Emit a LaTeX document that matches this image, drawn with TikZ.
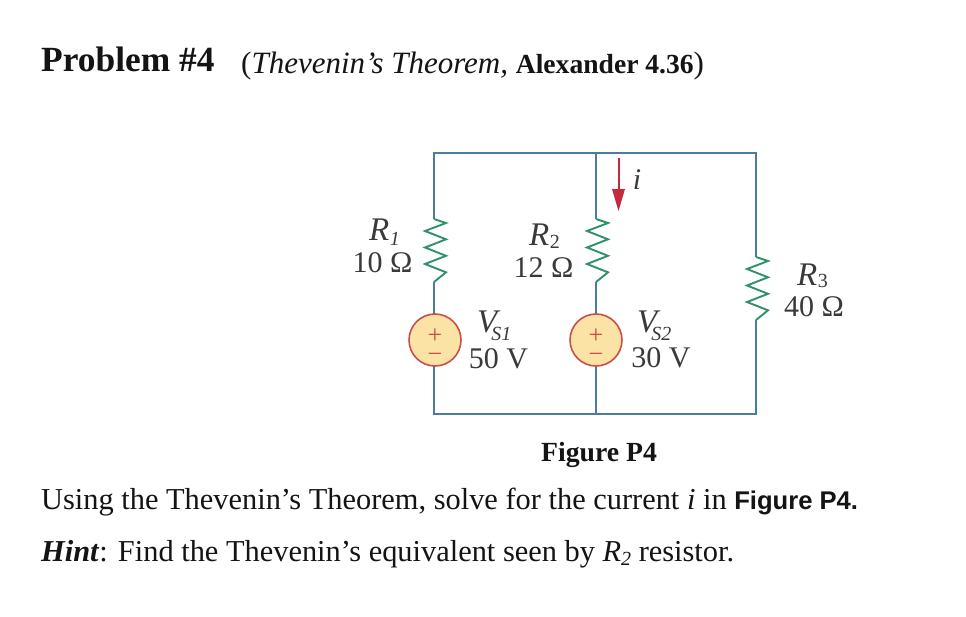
\documentclass[tikz,border=0pt]{standalone}
\usepackage{fontspec}
\usetikzlibrary{calc}
\setmainfont{Liberation Serif}
\newfontfamily\arialf{Liberation Sans}
\definecolor{wire}{HTML}{4A7C9C}
\definecolor{resc}{HTML}{2F9268}
\definecolor{srcfill}{HTML}{FBE3A6}
\definecolor{srcline}{HTML}{C8504A}
\definecolor{arrowc}{HTML}{C42A3C}
\definecolor{txt}{HTML}{141414}
\definecolor{circt}{HTML}{3A3A3A}
\newcommand{\subf}{\fontsize{20}{20}\selectfont}
\newcommand{\symf}{\fontsize{33}{33}\selectfont\itshape}
\tikzset{
  wireline/.style={draw=wire,line width=2pt},
  resline/.style={draw=resc,line width=1.9pt,line join=miter},
  srcnode/.style={circle,draw=srcline,fill=srcfill,line width=1.6pt,minimum size=52pt,inner sep=0pt,
    align=center,text=srcline,font=\fontsize{26}{19.5}\selectfont},
  ctext/.style={text=circt,font=\fontsize{30}{30}\selectfont,inner sep=0pt,anchor=base},
  symtext/.style={text=circt,font=\symf,inner sep=0pt,anchor=base west},
  para/.style={text=txt,font=\fontsize{30.4}{31}\selectfont,inner sep=0pt,anchor=base west}
}
\newcommand{\zigzag}[2]{%
 \draw[resline] (#1) -- ++(12,4) -- ++(-21,8) -- ++(21,8.3) -- ++(-21,8.2) -- ++(21,8.3) -- ++(-21,8.2) -- ++(21,8.3) -- (#2);}
\begin{document}
\begin{tikzpicture}[x=1pt,y=-1pt]
\useasboundingbox[fill=white] (0,0) rectangle (966,616);
% corner and junction coordinates
\coordinate (tl) at (434,152.5);
\coordinate (tm) at (596,152.5);
\coordinate (tr) at (756,152.5);
\coordinate (bl) at (434,414);
\coordinate (bm) at (596,414);
\coordinate (br) at (756,414);
\coordinate (r1t) at (434,219);
\coordinate (r1b) at (434,282);
\coordinate (r2t) at (596,219);
\coordinate (r2b) at (596,282);
\coordinate (r3t) at (756,257);
\coordinate (r3b) at (756,320);
\coordinate (at) at (618.5,158);
\coordinate (ab) at (618.5,211);
% wires
\draw[wireline] (r1t) -- (tl) -- (tr) -- (r3t);
\draw[wireline] (tm) -- (r2t);
\draw[wireline] (r1b) -- (bl) -- (br) -- (r3b);
\draw[wireline] (r2b) -- (bm);
% sources
\node[srcnode] (vs1) at (435,340) {\rule{0pt}{26pt}+\\−};
\node[srcnode] (vs2) at (596,340) {\rule{0pt}{26pt}+\\−};
% resistors
\zigzag{r1t}{r1b}
\zigzag{r2t}{r2b}
\zigzag{r3t}{r3b}
% current arrow
\draw[draw=arrowc,line width=2pt] (at) -- ($(ab)+(0,-16)$);
\fill[arrowc] (ab) -- ++(-6.5,-22) -- ++(13,0) -- cycle;
\node[ctext,font=\fontsize{30}{30}\selectfont\itshape] (ilabel) at (637,189) {i};
% circuit labels
\node[symtext] (r1n) at (369,240) {R\kern0.5pt\raisebox{-5pt}{\subf 1}};
\node[ctext] (r1v) at (382.5,272) {10 Ω};
\node[symtext] (r2n) at (529,245) {R\kern0.5pt\raisebox{-3pt}{\subf\upshape 2}};
\node[ctext] (r2v) at (543.5,277) {12 Ω};
\node[symtext] (r3n) at (797,285) {R\kern0.5pt\raisebox{-2pt}{\subf\upshape 3}};
\node[ctext] (r3v) at (814,316) {40 Ω};
\node[symtext] (v1n) at (477,332) {V\kern-6pt\raisebox{-8pt}{\subf S1}};
\node[ctext] (v1v) at (498.5,368) {50 V};
\node[symtext] (v2n) at (637,332) {V\kern-6pt\raisebox{-8pt}{\subf S2}};
\node[ctext] (v2v) at (661,367) {30 V};
% document text
\node[para,font=\fontsize{35.4}{36}\selectfont\bfseries] (title) at (41,71) {Problem \#4};
\node[para,font=\fontsize{31}{31}\selectfont] (subtitle) at (241,73) {(\textit{Thevenin’s Theorem,} {\fontsize{27.6}{28}\selectfont\bfseries Alexander 4.36})};
\node[para,font=\fontsize{27.7}{28}\selectfont\bfseries] (fig) at (541,461) {Figure P4};
\node[para] (l1) at (41,509) {Using the Thevenin’s Theorem, solve for the current \textit{i} in {\arialf\bfseries\fontsize{25.6}{26}\selectfont Figure P4.}};
\node[para] (l2) at (41,561) {\textbf{\textit{Hint}}: Find the Thevenin’s equivalent seen by \textit{R}\raisebox{-4pt}{\fontsize{20}{20}\selectfont\textit{2}} resistor.};
\end{tikzpicture}
\end{document}
